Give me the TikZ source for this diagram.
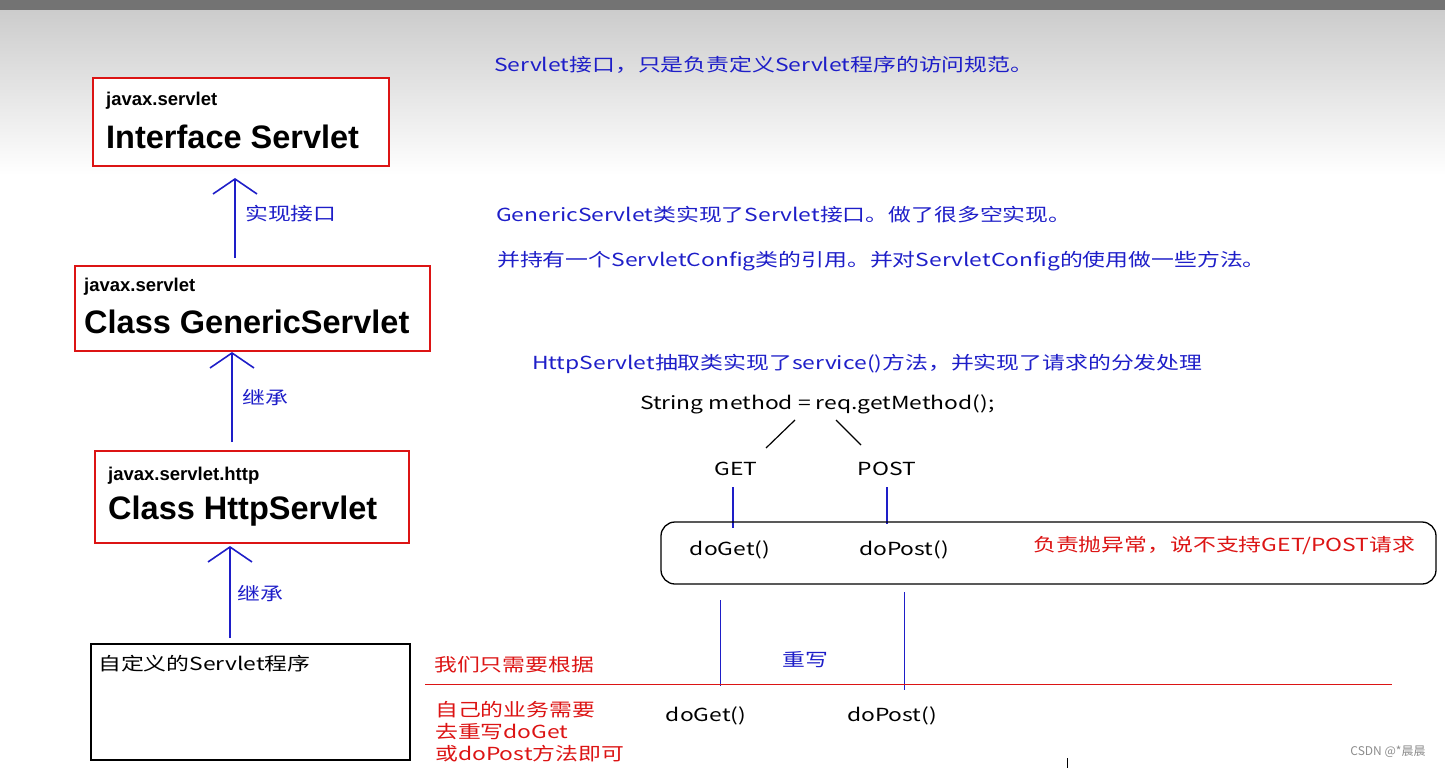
\documentclass[tikz,border=0pt]{standalone}
\usepackage{fontspec}
\setmainfont{Liberation Sans}
\newfontfamily\cjk{Noto Sans CJK SC}
\usetikzlibrary{arrows.meta}
\definecolor{tblue}{RGB}{30,30,200}
\definecolor{tred}{RGB}{220,20,20}
\newcommand{\widetxt}[1]{\scalebox{1.27}[1]{#1}}
\tikzset{
 cls/.style={draw=tred,line width=1.3pt,fill=white},
 small/.style={anchor=west,font=\fontsize{18.5}{20}\selectfont\bfseries,inner sep=0},
 big/.style={anchor=west,font=\fontsize{32.5}{34}\selectfont\bfseries,inner sep=0},
 note/.style={anchor=west,inner sep=0,font=\cjk\fontsize{18}{20}\selectfont},
 up/.style={draw=tblue,line width=1.6pt,-{Straight Barb[length=15pt,width=44pt,line width=1.6pt]}},
}
\begin{document}
\begin{tikzpicture}[x=1pt,y=-1pt]
\useasboundingbox (0,0) rectangle (1445,768);
\shade[top color=black!20,bottom color=white] (0,10) rectangle (1445,175);
\fill[black!55] (0,0) rectangle (1445,10);
% boxes
\draw[cls] (93,78) rectangle (389,166);
\node[small] (s1) at (106,101) {javax.servlet};
\node[big] (t1) at (106,137) {Interface Servlet};
\draw[cls] (75,266) rectangle (430,351);
\node[small] (s2) at (84,287) {javax.servlet};
\node[big] (t2) at (84,322) {Class GenericServlet};
\draw[cls] (95,451) rectangle (409,543);
\node[small] (s3) at (108,476) {javax.servlet.http};
\node[big] (t3) at (108,511) {Class HttpServlet};
\draw[line width=1.5pt] (91,644) rectangle (410,760);
\node[note] (c4) at (98,664) {\widetxt{自定义的Servlet程序}};
% arrows
\coordinate (a1s) at (235,258); \coordinate (a1e) at (235,178);
\coordinate (a2s) at (232,442); \coordinate (a2e) at (232,352);
\coordinate (a3s) at (230,638); \coordinate (a3e) at (230,546);
\draw[up] (a1s) -- (a1e);
\draw[up] (a2s) -- (a2e);
\draw[up] (a3s) -- (a3e);
\node[note,text=tblue] (l1) at (245,214) {\widetxt{实现接口}};
\node[note,text=tblue] (l2) at (242,398) {\widetxt{继承}};
\node[note,text=tblue] (l3) at (237,594) {\widetxt{继承}};
% notes
\node[note,text=tblue] (n1) at (494,65) {\widetxt{Servlet接口，只是负责定义Servlet程序的访问规范。}};
\node[note,text=tblue] (n2) at (496,215) {\widetxt{GenericServlet类实现了Servlet接口。做了很多空实现。}};
\node[note,text=tblue] (n3) at (497,261) {\widetxt{并持有一个ServletConfig类的引用。并对ServletConfig的使用做一些方法。}};
\node[note,text=tblue] (n4) at (532,364) {\widetxt{HttpServlet抽取类实现了service()方法，并实现了请求的分发处理}};
\node[note] (sm) at (640,404) {\widetxt{String method = req.getMethod();}};
\node[note,anchor=center] (get) at (736,469) {\widetxt{GET}};
\node[note,anchor=center] (post) at (887,469) {\widetxt{POST}};
\draw[line width=1.2pt] (795,420) -- (766,448);
\draw[line width=1.2pt] (836,420) -- (861,445);
\draw[draw=tblue,line width=2pt] (733,487) -- (733,528);
\draw[draw=tblue,line width=2pt] (887,487) -- (887,524);
\draw[line width=1.3pt,rounded corners=14pt] (661,522) rectangle (1436,584);
\node[note,anchor=center] (dg1) at (730,550) {\widetxt{doGet()}};
\node[note,anchor=center] (dp1) at (904,550) {\widetxt{doPost()}};
\node[note,text=tred] (ex) at (1033,546) {\widetxt{负责抛异常，说不支持GET/POST请求}};
\draw[draw=tblue,line width=1pt] (720,600) -- (720,686);
\draw[draw=tblue,line width=1pt] (904,592) -- (904,690);
\node[note,text=tblue,anchor=center] (cx) at (805,660) {\widetxt{重写}};
\draw[draw=tred,line width=1pt] (425,684) -- (1392,684);
\node[note,text=tred] (r1) at (434,665) {\widetxt{我们只需要根据}};
\node[note,text=tred] (r2) at (435,710) {\widetxt{自己的业务需要}};
\node[note,text=tred] (r3) at (435,732) {\widetxt{去重写doGet}};
\node[note,text=tred] (r4) at (435,754) {\widetxt{或doPost方法即可}};
\node[note,anchor=center] (dg2) at (706,716) {\widetxt{doGet()}};
\node[note,anchor=center] (dp2) at (892,716) {\widetxt{doPost()}};
\draw (1067,758) -- (1067,768);
\node[anchor=center,inner sep=0,text=black!45,font=\cjk\fontsize{12}{14}\selectfont] (wm) at (1388,752) {CSDN @*晨晨};
\end{tikzpicture}
\end{document}
